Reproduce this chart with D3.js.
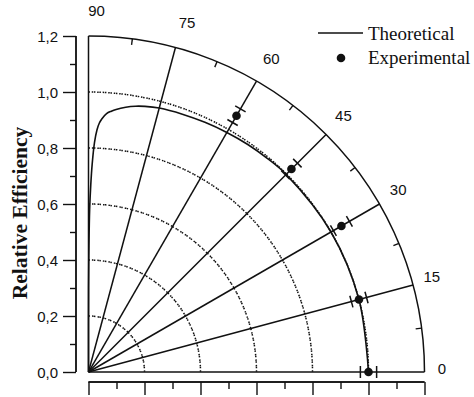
<!DOCTYPE html>
<html lang="en">

<head>
    <meta charset="utf-8" />
    <script src="https://cdnjs.cloudflare.com/ajax/libs/d3/7.8.5/d3.min.js"></script>
    <style type="text/css">
        body {
            margin: 0;
            background: #fff;
        }

        .tick text {
            font-family: 'Liberation Sans', Arial, sans-serif;
            font-size: 15px;
            fill: #111;
        }
    </style>
</head>

<body>
    <div class="svg-box"></div>
    <script type="text/javascript">
        // angles (deg) of the spokes and their labels
        var spokeAngles = [0, 15, 30, 45, 60, 75, 90];
        var spokeLabels = ['0', '15', '30', '45', '60', '75', '90'];
        // dotted reference circles
        var gridRadii = [0.2, 0.4, 0.6, 0.8, 1.0];
        // minor ticks on the outer arc
        var arcTickAngles = [7.5, 22.5, 37.5, 52.5, 67.5, 82.5];

        // theoretical curve
        var theoAngle = [0, 15, 30, 45, 50, 55, 60, 65, 70, 75, 78, 80, 82, 84, 85, 86, 87, 87.5, 88, 88.5, 89, 89.3, 89.6, 89.8, 89.95, 90];
        var theoEff = [1.0, 1.0, 1.0, 0.998, 0.995, 0.992, 0.988, 0.984, 0.98, 0.976, 0.97, 0.964, 0.955, 0.943, 0.935, 0.925, 0.905, 0.89, 0.865, 0.82, 0.74, 0.67, 0.58, 0.45, 0.3, 0.0];

        // experimental points
        var expAngle = [0, 15, 30, 45, 60];
        var expEff = [1.0, 1.0, 1.043, 1.025, 1.057];
        var expErr = [0.029, 0.028, 0.033, 0.03, 0.028];

        var yTicksMajor = [0, 0.2, 0.4, 0.6, 0.8, 1.0, 1.2];
        var yTicksMinor = [0.1, 0.3, 0.5, 0.7, 0.9, 1.1];

        var width = 474;
        var height = 397;
        var cx = 88.5;
        var cy = 372;
        var maxR = 336;
        var ink = '#111';

        var svg = d3.select('div.svg-box')
            .append('svg')
            .attr('width', width)
            .attr('height', height);

        var r = d3.scaleLinear().domain([0, 1.2]).range([0, maxR]);
        var y = d3.scaleLinear().domain([0, 1.2]).range([cy, cy - maxR]);
        var x = d3.scaleLinear().domain([0, 1.2]).range([cx, cx + maxR]);
        var rad = function (deg) { return deg * Math.PI / 180; };

        var locale = d3.formatLocale({ decimal: ',', thousands: '.', grouping: [3], currency: ['', ''] });
        var fmt = locale.format('.1f');

        // -- left axis --
        var axL = 76;
        var gL = svg.append('g').attr('transform', 'translate(' + axL + ',0)');
        gL.call(d3.axisLeft(y).tickValues(yTicksMajor).tickSize(13).tickPadding(5).tickFormat(fmt));
        gL.append('g').call(d3.axisLeft(y).tickValues(yTicksMinor).tickSize(6).tickFormat(''));
        gL.selectAll('.domain').attr('d', 'M0,' + y(1.2) + 'V' + y(0)).attr('stroke', ink).attr('stroke-width', 1.4);
        gL.selectAll('line').attr('stroke', ink).attr('stroke-width', 1.4);
        gL.selectAll('text').attr('dy', '0.36em');

        // -- bottom axis (no labels) --
        var gB = svg.append('g').attr('transform', 'translate(0,382)');
        gB.call(d3.axisBottom(x).tickValues(yTicksMajor).tickSize(13).tickFormat(''));
        gB.append('g').call(d3.axisBottom(x).tickValues(yTicksMinor).tickSize(7).tickFormat(''));
        gB.selectAll('.domain').attr('d', 'M' + x(0) + ',0H' + x(1.2)).attr('stroke', ink).attr('stroke-width', 1.4);
        gB.selectAll('line').attr('stroke', ink).attr('stroke-width', 1.4);

        // -- polar part --
        var polar = svg.append('g').attr('transform', 'translate(' + cx + ',' + cy + ')');

        var arc = d3.arc().startAngle(0).endAngle(Math.PI / 2);

        polar.selectAll('path.grid')
            .data(gridRadii)
            .enter()
            .append('path')
            .attr('class', 'grid')
            .attr('d', function (d) { return arc.innerRadius(r(d)).outerRadius(r(d))(); })
            .attr('fill', 'none')
            .attr('stroke', ink)
            .attr('stroke-width', 1.5)
            .attr('stroke-dasharray', '1.5,4');

        // outer arc
        polar.append('path')
            .attr('d', arc.innerRadius(r(1.2)).outerRadius(r(1.2))())
            .attr('fill', 'none')
            .attr('stroke', ink)
            .attr('stroke-width', 1.5);

        // spokes
        polar.selectAll('line.spoke')
            .data(spokeAngles)
            .enter()
            .append('line')
            .attr('class', 'spoke')
            .attr('x1', 0).attr('y1', 0)
            .attr('x2', function (d) { return r(1.2) * Math.cos(rad(d)); })
            .attr('y2', function (d) { return -r(1.2) * Math.sin(rad(d)); })
            .attr('stroke', ink)
            .attr('stroke-width', 1.5);

        // ticks on the outer arc, pointing inwards
        polar.selectAll('line.arctick')
            .data(arcTickAngles)
            .enter()
            .append('line')
            .attr('x1', function (d) { return r(1.2) * Math.cos(rad(d)); })
            .attr('y1', function (d) { return -r(1.2) * Math.sin(rad(d)); })
            .attr('x2', function (d) { return (r(1.2) - 6) * Math.cos(rad(d)); })
            .attr('y2', function (d) { return -(r(1.2) - 6) * Math.sin(rad(d)); })
            .attr('stroke', ink)
            .attr('stroke-width', 1.4);

        // angle labels
        polar.selectAll('text.alabel')
            .data(spokeAngles)
            .enter()
            .append('text')
            .attr('x', function (d) { return r(1.28) * Math.cos(rad(d)) - 5 + 13 * d / 90; })
            .attr('y', function (d) { return -r(1.28) * Math.sin(rad(d)) - 3; })
            .attr('text-anchor', 'middle')
            .attr('dy', '0.36em')
            .style('font-family', "'Liberation Sans', Arial, sans-serif")
            .style('font-size', '15px')
            .attr('fill', ink)
            .text(function (d, i) { return spokeLabels[i]; });

        // theoretical curve
        var theo = theoAngle.map(function (a, i) { return [a, theoEff[i]]; });
        var line = d3.lineRadial()
            .angle(function (d) { return Math.PI / 2 - rad(d[0]); })
            .radius(function (d) { return r(d[1]); })
            .curve(d3.curveCatmullRom);
        polar.append('path')
            .attr('d', line(theo))
            .attr('fill', 'none')
            .attr('stroke', ink)
            .attr('stroke-width', 1.6);

        // experimental points with error ticks
        var exp = expAngle.map(function (a, i) { return { a: a, v: expEff[i], e: expErr[i] }; });
        var eg = polar.append('g');
        exp.forEach(function (d) {
            var c = Math.cos(rad(d.a)), s = Math.sin(rad(d.a));
            [d.v - d.e, d.v + d.e].forEach(function (v) {
                var px = r(v) * c, py = -r(v) * s;
                eg.append('line')
                    .attr('x1', px - 6 * s).attr('y1', py - 6 * c)
                    .attr('x2', px + 6 * s).attr('y2', py + 6 * c)
                    .attr('stroke', ink)
                    .attr('stroke-width', 1.5);
            });
            eg.append('circle')
                .attr('cx', r(d.v) * c)
                .attr('cy', -r(d.v) * s)
                .attr('r', 4.3)
                .attr('fill', ink);
        });

        // y title
        svg.append('text')
            .attr('transform', 'translate(19,213) rotate(-90)')
            .attr('text-anchor', 'middle')
            .attr('dy', '0.35em')
            .style('font-family', "'Liberation Serif', 'Times New Roman', serif")
            .style('font-weight', 'bold')
            .style('font-size', '21.5px')
            .attr('fill', ink)
            .text('Relative Efficiency');

        // legend
        var lg = svg.append('g').style('font-family', "'Liberation Serif', 'Times New Roman', serif").style('font-size', '19px');
        lg.append('line').attr('x1', 318).attr('x2', 363).attr('y1', 33).attr('y2', 33).attr('stroke', ink).attr('stroke-width', 1.5);
        lg.append('text').attr('x', 368).attr('y', 39.5).attr('fill', ink).text('Theoretical');
        lg.append('circle').attr('cx', 341).attr('cy', 58).attr('r', 4.3).attr('fill', ink);
        lg.append('text').attr('x', 368).attr('y', 64).attr('fill', ink).text('Experimental');
    </script>
</body>

</html>
